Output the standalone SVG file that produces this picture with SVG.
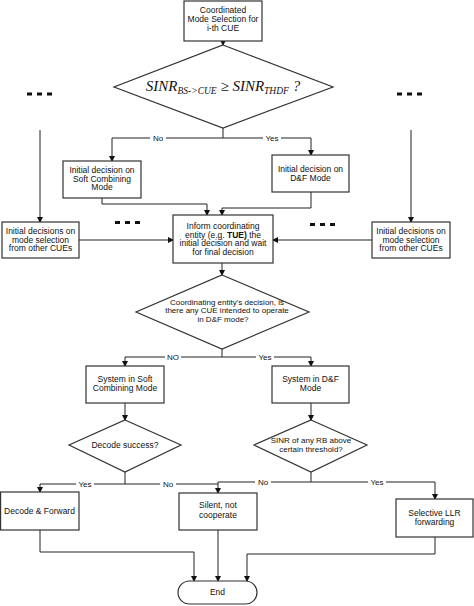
<svg xmlns="http://www.w3.org/2000/svg" width="474" height="606" viewBox="0 0 474 606">
<defs>
<marker id="arr" markerWidth="6" markerHeight="6" refX="5" refY="3" orient="auto" markerUnits="userSpaceOnUse">
<path d="M0,0 L6,3 L0,6 Z" fill="#111"/>
</marker>
<style>
.box{fill:#fff;stroke:#333;stroke-width:1.2}
.t{font-family:"Liberation Sans",Arial,sans-serif;font-size:8.5px;fill:#111;text-anchor:middle}
.ts{font-family:"Liberation Sans",Arial,sans-serif;font-size:8px;fill:#111;text-anchor:middle}
.lbl{font-family:"Liberation Sans",Arial,sans-serif;font-size:8px;fill:#111;text-anchor:middle}
.lb{fill:#fff}
.c{fill:none;stroke:#222;stroke-width:1}
.a{fill:none;stroke:#222;stroke-width:1;marker-end:url(#arr)}
.dot{fill:#111}
.m{font-family:"Liberation Serif","Times New Roman",serif;font-style:italic;fill:#111;text-anchor:middle}
</style>
</defs>
<rect width="474" height="606" fill="#fff"/>

<g id="connectors">
<path class="a" d="M223,41 V45"/>
<path class="c" d="M223,128 V138 M112,138 H311"/>
<path class="a" d="M112,138 V161"/>
<path class="a" d="M311,138 V155"/>
<path class="a" d="M40,130 V222"/>
<path class="a" d="M411,130 V222"/>
<path class="a" d="M102,198 V204 H207 V215"/>
<path class="a" d="M311,192 V208 H222 V215"/>
<path class="a" d="M79,240 H173"/>
<path class="a" d="M372,240 H273"/>
<path class="a" d="M222,263 V275"/>
<path class="c" d="M222,349 V357 M125,357 H311"/>
<path class="a" d="M125,357 V366"/>
<path class="a" d="M311,357 V366"/>
<path class="a" d="M125,403 V420"/>
<path class="a" d="M311,403 V420"/>
<path class="c" d="M125,472 V484 M40,484 H218"/>
<path class="c" d="M311,472 V482 M218,482 H435"/>
<path class="a" d="M40,484 V492"/>
<path class="a" d="M218,482 V493"/>
<path class="a" d="M435,482 V499"/>
<path class="a" d="M40,530 V552 H194 V581"/>
<path class="a" d="M218,530 V581"/>
<path class="a" d="M435,537 V554 H247 V581"/>
<g id="labels">
<rect class="lb" x="150" y="134" width="16" height="8"/><text class="lbl" x="158" y="141">No</text>
<rect class="lb" x="263" y="134" width="18" height="8"/><text class="lbl" x="272" y="141">Yes</text>
<rect class="lb" x="165" y="353" width="16" height="8"/><text class="lbl" x="173" y="360">NO</text>
<rect class="lb" x="256" y="353" width="18" height="8"/><text class="lbl" x="265" y="360">Yes</text>
<rect class="lb" x="76" y="480" width="18" height="8"/><text class="lbl" x="85" y="487">Yes</text>
<rect class="lb" x="160" y="480" width="16" height="8"/><text class="lbl" x="168" y="487">No</text>
<rect class="lb" x="255" y="478" width="16" height="8"/><text class="lbl" x="263" y="485">No</text>
<rect class="lb" x="368" y="478" width="18" height="8"/><text class="lbl" x="377" y="485">Yes</text>
</g>
</g>

<g id="dots">
<rect class="dot" x="27" y="92.5" width="5" height="3"/><rect class="dot" x="37" y="92.5" width="5" height="3"/><rect class="dot" x="47" y="92.5" width="5" height="3"/>
<rect class="dot" x="397" y="92.5" width="5" height="3"/><rect class="dot" x="407" y="92.5" width="5" height="3"/><rect class="dot" x="417" y="92.5" width="5" height="3"/>
<rect class="dot" x="115" y="221" width="5" height="3"/><rect class="dot" x="125" y="221" width="5" height="3"/><rect class="dot" x="135" y="221" width="5" height="3"/>
<rect class="dot" x="310" y="223" width="5" height="3"/><rect class="dot" x="320" y="223" width="5" height="3"/><rect class="dot" x="330" y="223" width="5" height="3"/>
</g>

<g id="n_start">
<rect class="box" x="184" y="1" width="78" height="40"/>
<text class="t" x="223" y="12.5">Coordinated</text>
<text class="t" x="223" y="22">Mode Selection for</text>
<text class="t" x="223" y="31">i-th CUE</text>
</g>

<g id="d1">
<polygon class="box" points="223,45 333,87 223,128 114,87"/>
<text class="m" x="223" y="91" font-size="15">SINR<tspan font-size="9.5" dy="3">BS-&gt;CUE</tspan><tspan dy="-3"> ≥ SINR</tspan><tspan font-size="9.5" dy="3">THDF</tspan><tspan dy="-3"> ?</tspan></text>
</g>

<g id="n_softinit">
<rect class="box" x="63" y="161" width="78" height="37"/>
<text class="t" x="102" y="173">Initial decision on</text>
<text class="t" x="102" y="181.5">Soft Combining</text>
<text class="t" x="102" y="190">Mode</text>
</g>

<g id="n_dfinit">
<rect class="box" x="272" y="155" width="77" height="37"/>
<text class="t" x="310.5" y="172">Initial decision on</text>
<text class="t" x="310.5" y="180.5">D&amp;F Mode</text>
</g>

<g id="n_otherL">
<rect class="box" x="2" y="222" width="77" height="36"/>
<text class="t" x="40.5" y="234">Initial decisions on</text>
<text class="t" x="40.5" y="242.5">mode selection</text>
<text class="t" x="40.5" y="251">from other CUEs</text>
</g>

<g id="n_otherR">
<rect class="box" x="372" y="222" width="78" height="36"/>
<text class="t" x="411" y="234">Initial decisions on</text>
<text class="t" x="411" y="242.5">mode selection</text>
<text class="t" x="411" y="251">from other CUEs</text>
</g>

<g id="n_inform">
<rect class="box" x="173" y="215" width="100" height="48"/>
<text class="t" x="223" y="229">Inform coordinating</text>
<text class="t" x="223" y="237.7">entity (e.g. <tspan font-weight="bold">TUE)</tspan> the</text>
<text class="t" x="223" y="246.4">initial decision and wait</text>
<text class="t" x="223" y="255">for  final decision</text>
</g>

<g id="d2">
<polygon class="box" points="222,275 309,312 222,349 136,312"/>
<text class="ts" x="227" y="304.5">Coordinating entity's decision, is</text>
<text class="ts" x="227" y="313">there any CUE intended to operate</text>
<text class="ts" x="223" y="321.5">in D&amp;F mode?</text>
</g>

<g id="n_softsys">
<rect class="box" x="86" y="366" width="78" height="37"/>
<text class="t" x="125" y="382">System in Soft</text>
<text class="t" x="125" y="391">Combining Mode</text>
</g>

<g id="n_dfsys">
<rect class="box" x="272" y="366" width="77" height="37"/>
<text class="t" x="310.5" y="382">System in D&amp;F</text>
<text class="t" x="310.5" y="391">Mode</text>
</g>

<g id="d3">
<polygon class="box" points="125,420 181,445 125,472 69,445"/>
<text class="t" x="125" y="448">Decode success?</text>
</g>

<g id="d4">
<polygon class="box" points="311,420 367,445 311,472 254,445"/>
<text class="ts" x="311" y="443">SINR of any RB above</text>
<text class="ts" x="311" y="452">certain  threshold?</text>
</g>

<g id="n_df">
<rect class="box" x="0.6" y="492" width="78.4" height="38"/>
<text class="t" x="39.5" y="514">Decode &amp; Forward</text>
</g>

<g id="n_silent">
<rect class="box" x="179" y="493" width="78" height="37"/>
<text class="t" x="218" y="508">Silent, not</text>
<text class="t" x="218" y="517.5">cooperate</text>
</g>

<g id="n_llr">
<rect class="box" x="396" y="499" width="77" height="38"/>
<text class="t" x="434.5" y="516">Selective LLR</text>
<text class="t" x="434.5" y="525">forwarding</text>
</g>

<g id="n_end">
<rect class="box" x="178" y="581" width="79" height="23" rx="11.5" ry="11.5"/>
<text class="t" x="217.5" y="595">End</text>
</g>
</svg>
